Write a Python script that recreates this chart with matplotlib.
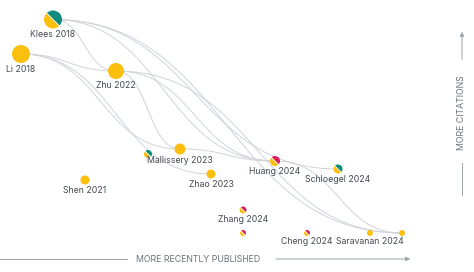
import numpy as np
import matplotlib
matplotlib.use("Agg")
import matplotlib.pyplot as plt
from matplotlib.patches import Wedge, Circle
from matplotlib.path import Path
from matplotlib.patches import PathPatch

# papers: recency position, citation position (screen-like units, larger y = fewer citations)
labels = ["Klees 2018", "Li 2018", "Zhu 2022", "Mallissery 2023", "", "Zhao 2023",
          "Shen 2021", "Huang 2024", "Schloegel 2024", "Zhang 2024", "", "Cheng 2024",
          "Saravanan 2024", ""]
recency = [53, 21, 116, 180, 148, 211, 85, 275, 338, 243, 243, 307, 370, 402]
citation_rank = [19.5, 54, 71, 149, 154, 174, 180, 161, 169, 210, 233, 233, 233, 233]
node_size = [9, 9, 8, 5.5, 4, 4.5, 4.5, 5, 4.5, 3.5, 3, 3, 3, 3]
# second colour of split nodes (None = single colour)
second_topic = ["teal", None, None, None, "teal", None, None, "red", "teal", "red",
                "red", "red", None, None]

edges = [(0, 2), (0, 8), (0, 7), (0, 13), (1, 2), (1, 3), (1, 5), (2, 7),
         (2, 3), (2, 13), (3, 7), (7, 13)]

YELLOW = "#fbbf0e"
TEAL = "#0f8b7b"
RED = "#d51f5b"
topic_colors = {"teal": TEAL, "red": RED}

fig = plt.figure(figsize=(4.74, 2.72), dpi=100)
ax = fig.add_axes([0, 0, 1, 1])
ax.set_xlim(0, 474)
ax.set_ylim(0, 272)
ax.axis("off")

def ypos(v):
    return 272 - v

# edges as smooth s-curves
for s, t in edges:
    x0, y0 = recency[s], ypos(citation_rank[s])
    x1, y1 = recency[t], ypos(citation_rank[t])
    dx = x1 - x0
    verts = [(x0, y0), (x0 + 0.5 * dx, y0), (x1 - 0.5 * dx, y1), (x1, y1)]
    path = Path(verts, [Path.MOVETO, Path.CURVE4, Path.CURVE4, Path.CURVE4])
    ax.add_patch(PathPatch(path, facecolor="none", edgecolor="#cfd3d9", lw=0.7, zorder=1))

for i in range(len(labels)):
    cx, cy, r = recency[i], ypos(citation_rank[i]), node_size[i]
    if second_topic[i] is None:
        ax.add_patch(Circle((cx, cy), r, color=YELLOW, lw=0, zorder=3))
    else:
        ax.add_patch(Wedge((cx, cy), r, -45, 135, color=topic_colors[second_topic[i]], lw=0, zorder=3))
        ax.add_patch(Wedge((cx, cy), r, 135, 315, color=YELLOW, lw=0, zorder=3))
        d = r / np.sqrt(2)
        ax.plot([cx - d, cx + d], [cy + d, cy - d], color="white", lw=0.6, zorder=4)
    if labels[i]:
        ax.text(cx, cy - r - 1.5, labels[i], ha="center", va="top", fontsize=6.3,
                color="#454a52", family="Inter", zorder=5)

# axis annotations
axc = "#9ea3aa"
ax.plot([0, 127], [ypos(259)] * 2, color=axc, lw=0.7)
ax.annotate("", xy=(413, ypos(259)), xytext=(273, ypos(259)),
            arrowprops=dict(arrowstyle="-|>,head_length=0.25,head_width=0.12", color=axc, lw=0.7))
ax.text(198, ypos(259), "MORE RECENTLY PUBLISHED", ha="center", va="center", fontsize=6.3,
        color="#6c7178", family="Inter")
ax.plot([462, 462], [ypos(163), ypos(195)], color=axc, lw=0.7)
ax.annotate("", xy=(462, ypos(29)), xytext=(462, ypos(62)),
            arrowprops=dict(arrowstyle="-|>,head_length=0.25,head_width=0.12", color=axc, lw=0.7))
ax.text(462, ypos(113), "MORE CITATIONS", ha="center", va="center", rotation=90, fontsize=6.3,
        color="#6c7178", family="Inter")

fig.savefig("out.png", dpi=100)
